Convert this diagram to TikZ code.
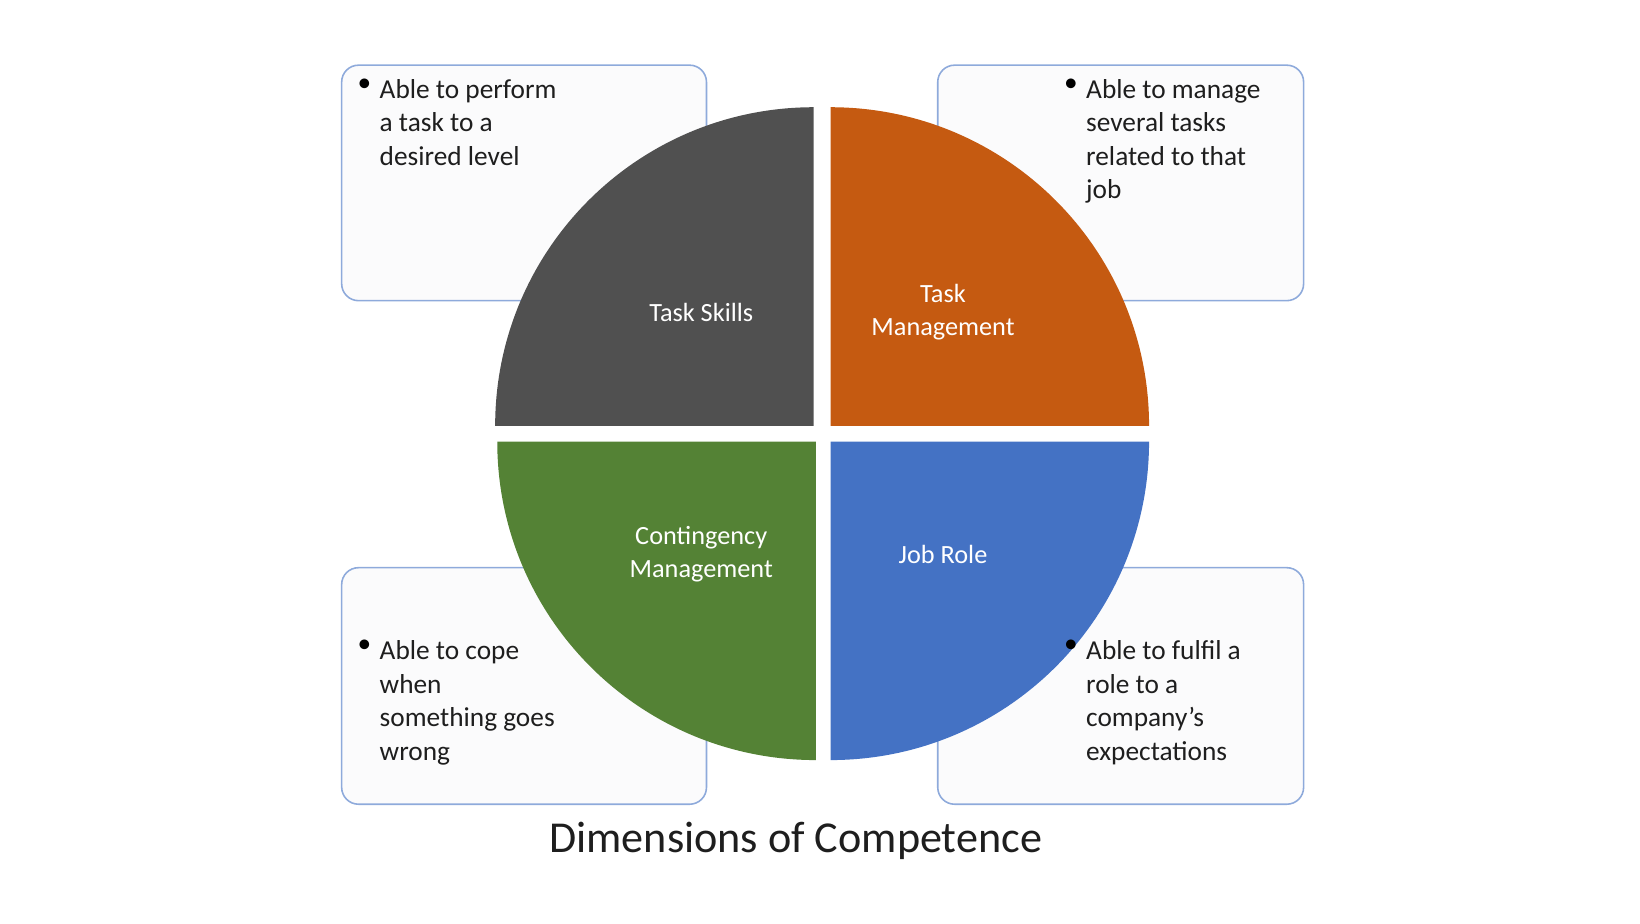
\documentclass[tikz,border=0pt]{standalone}
\usepackage{fontspec}
\setmainfont{Carlito}
\begin{document}
\begin{tikzpicture}[x=1pt,y=1pt,
  box/.style={draw=blue!30!cyan!30!gray!60, draw={rgb,255:red,142;green,170;blue,219}, line width=1.5pt, fill={rgb,255:red,251;green,251;blue,252}, rounded corners=16pt},
  btxt/.style={anchor=north west, align=left, inner sep=0pt, font=\fontsize{26}{32}\selectfont, text={rgb,255:red,30;green,30;blue,30}},
  blt/.style={anchor=north west, inner sep=0pt, font=\fontsize{26}{32}\selectfont},
  lbl/.style={align=center, text=white, font=\fontsize{25}{32}\selectfont}]
\useasboundingbox (0,0) rectangle (1560,878);
\definecolor{cgray}{RGB}{80,80,80}
\definecolor{corange}{RGB}{197,90,17}
\definecolor{cgreen}{RGB}{84,130,53}
\definecolor{cblue}{RGB}{68,114,196}
% boxes
\draw[box] (325,592) rectangle (672,816);
\draw[box] (892,592) rectangle (1240,816);
\draw[box] (325,113) rectangle (672,338);
\draw[box] (892,113) rectangle (1240,338);
% quadrants
\fill[cgray] (774,473) -- (471,473) arc[start angle=180,end angle=90,radius=303] -- cycle;
\fill[corange] (790,473) -- (790,776) arc[start angle=90,end angle=0,radius=303] -- cycle;
\fill[cgreen] (776,458) -- (776,155) arc[start angle=270,end angle=180,radius=303] -- cycle;
\fill[cblue] (790,458) -- (1093,458) arc[start angle=0,end angle=-90,radius=303] -- cycle;
% labels
\node[lbl] (ts) at (667,581) {Task Skills};
\node[lbl] (tm) at (897,581) {Task\\Management};
\node[lbl] (cm) at (667,351) {Contingency\\Management};
\node[lbl] (jr) at (897,351) {Job Role};
% box texts
\node[blt] (b1) at (340,803) {\textbullet};
\node[btxt] (t1) at (361,803) {Able to perform\\a task to a\\desired level};
\node[blt] (b2) at (1012,803) {\textbullet};
\node[btxt] (t2) at (1033,803) {Able to manage\\several tasks\\related to that\\job};
\node[blt] (b3) at (340,269) {\textbullet};
\node[btxt] (t3) at (361,269) {Able to cope\\when\\something goes\\wrong};
\node[blt] (b4) at (1012,269) {\textbullet};
\node[btxt] (t4) at (1033,269) {Able to fulfil a\\role to a\\company’s\\expectations};
% title
\node[font=\fontsize{42}{48}\selectfont, text={rgb,255:red,30;green,30;blue,30}] (title) at (757,78) {Dimensions of Competence};
\end{tikzpicture}
\end{document}
